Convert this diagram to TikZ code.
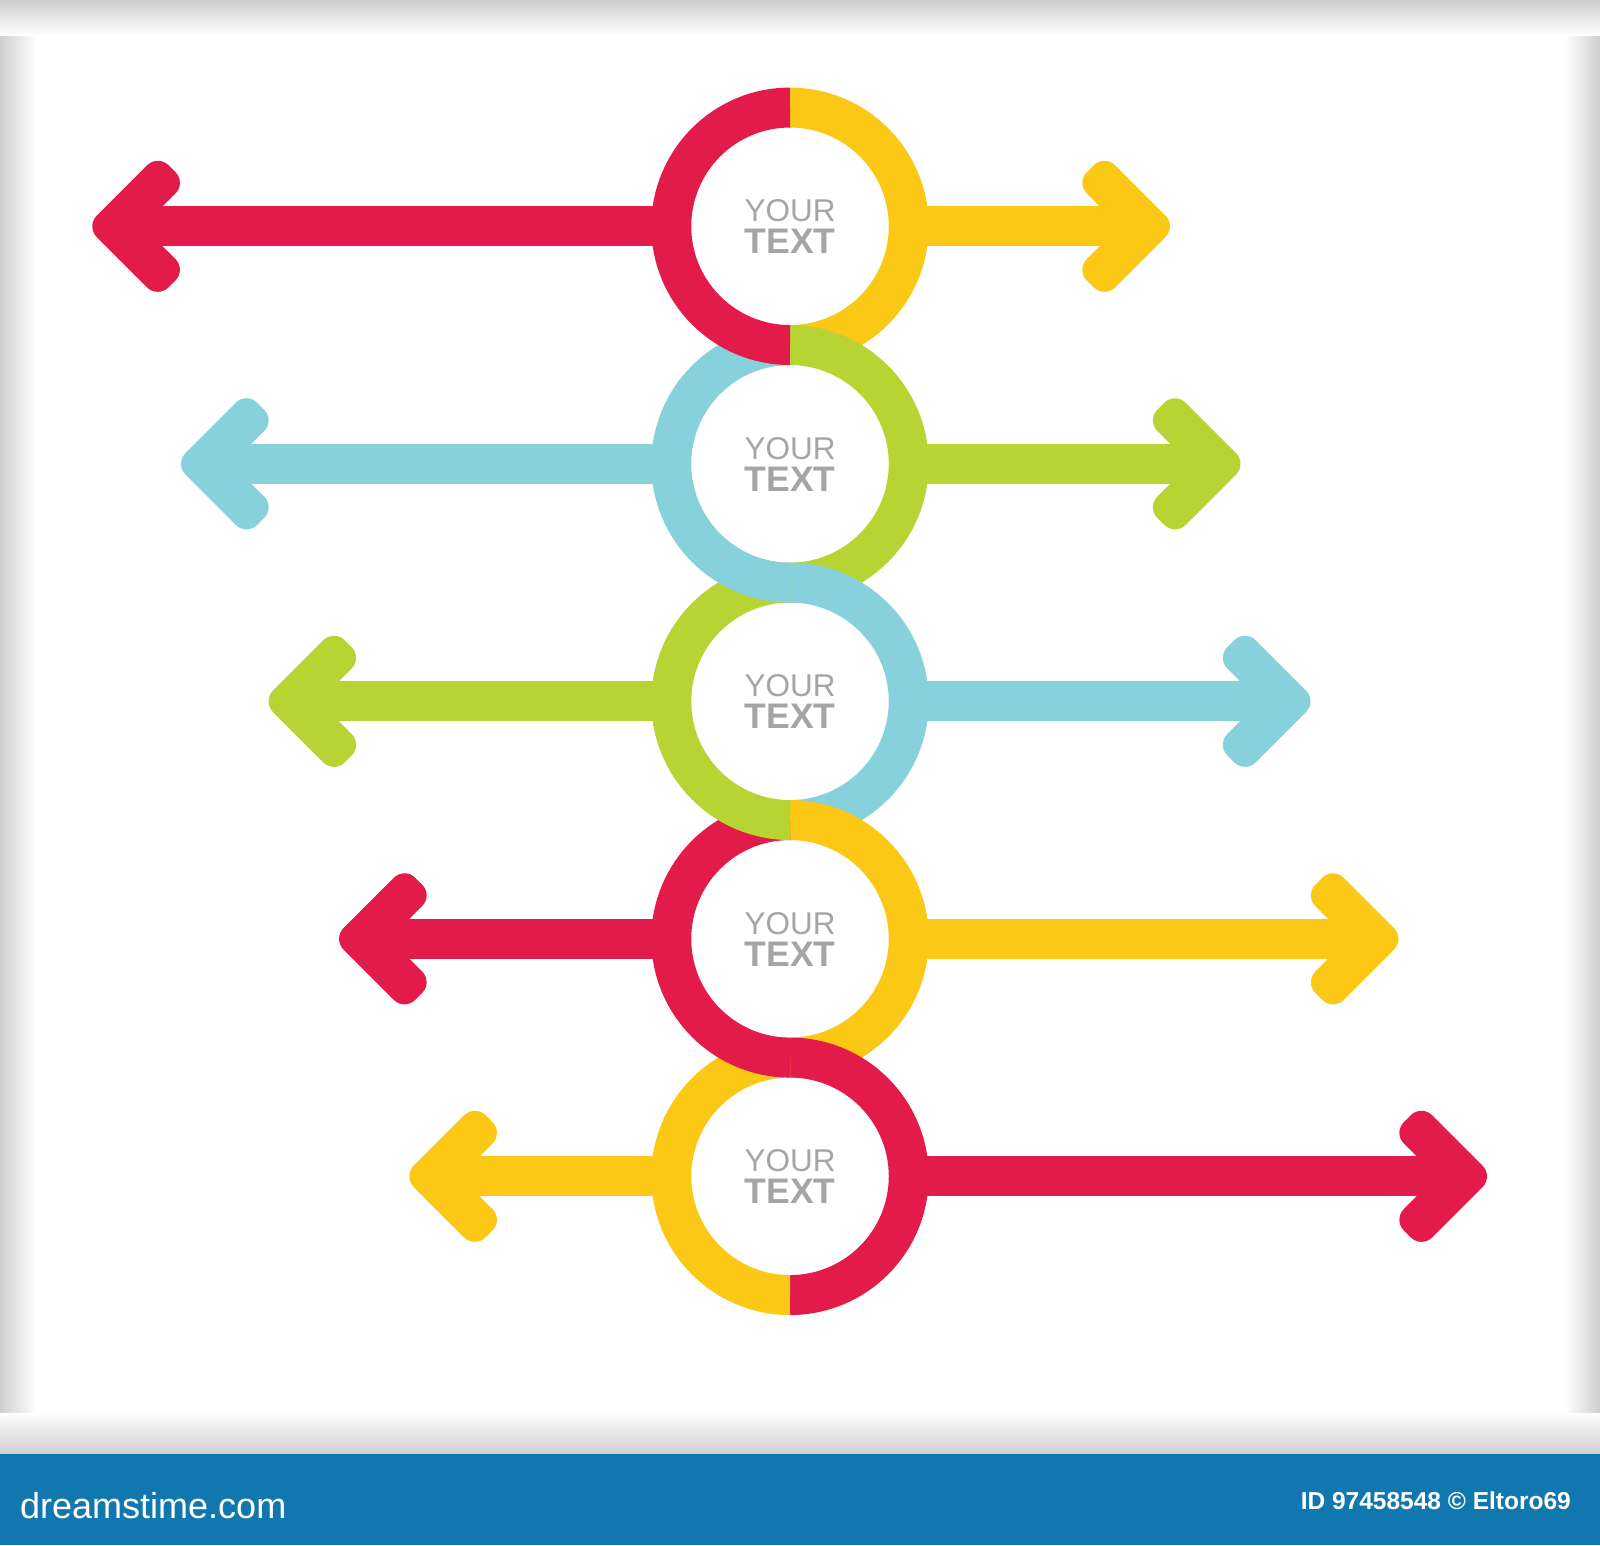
\documentclass[tikz,border=0pt]{standalone}
\usepackage{fontspec}
\setmainfont{Liberation Sans}
\usetikzlibrary{calc}
\definecolor{cred}{HTML}{E21B4B}
\definecolor{cyel}{HTML}{FBC815}
\definecolor{cblu}{HTML}{86D1DC}
\definecolor{cgrn}{HTML}{B8D433}
\definecolor{ctxt}{HTML}{A5A5A5}
\definecolor{cfoot}{HTML}{1177AF}
\definecolor{cedge}{HTML}{CFCFCF}
\begin{document}
\begin{tikzpicture}[x=1pt,y=1pt,
  band/.style={line width=40pt},
  chev/.style={rounded corners=15pt},
  lbl/.style={text=ctxt, inner sep=0pt, anchor=base},
  foot/.style={text=white, inner sep=0pt}]
\useasboundingbox (0,0) rectangle (1600,-1545);
% background frame
\fill[white] (0,0) rectangle (1600,-1545);
\shade[top color=cedge, bottom color=white] (0,0) rectangle (1600,-36);
\shade[top color=white, bottom color=cedge] (0,-1412) rectangle (1600,-1454);
\shade[left color=cedge, right color=white] (0,-36) rectangle (36,-1412);
\shade[left color=white, right color=cedge] (1565,-36) rectangle (1600,-1412);
\fill[cfoot] (0,-1454) rectangle (1600,-1545);
\node[foot, anchor=base west, font=\fontsize{36}{36}\selectfont] (logo) at (20,-1518) {dreamstime.com};
\node[foot, anchor=base east, font=\fontsize{24.5}{24.5}\selectfont\bfseries] (credit) at (1571,-1509.5) {ID 97458548 © Eltoro69};
% arms with arrowheads
\foreach \i/\cy/\lc/\rc/\lt/\rt in {1/226.3/cred/cyel/92.3/1170,2/463.8/cblu/cgrn/181/1240.5,3/701.3/cgrn/cblu/268.5/1310.5,4/938.8/cred/cyel/339/1398.5,5/1176.3/cyel/cred/409.3/1487}{
  \pgfmathsetmacro{\vl}{\lt+22.1}
  \pgfmathsetmacro{\vr}{\rt-22.1}
  \coordinate (c\i) at (790,-\cy);
  \coordinate (al\i) at (671.25,-\cy);
  \coordinate (ar\i) at (908.75,-\cy);
  \coordinate (vl\i) at (\vl,-\cy);
  \coordinate (vr\i) at (\vr,-\cy);
  \draw[band,\lc] (al\i) -- (vl\i);
  \draw[band,\rc] (ar\i) -- (vr\i);
  \fill[\lc, chev, shift={(vl\i)}] (7.5,-36) -- (-28.28,0) -- (43.46,71.74) -- (71.74,43.46) -- (28.28,0) -- (71.74,-43.46) -- (43.46,-71.74) -- cycle;
  \fill[\rc, chev, shift={(vr\i)}, xscale=-1] (7.5,-36) -- (-28.28,0) -- (43.46,71.74) -- (71.74,43.46) -- (28.28,0) -- (71.74,-43.46) -- (43.46,-71.74) -- cycle;
}
% right halves, lower ones on top
\foreach \i/\rc in {1/cyel,2/cgrn,3/cblu,4/cyel,5/cred}{
  \draw[band,\rc] ($(c\i)+(0,118.75)$) arc[start angle=90, end angle=-90, radius=118.75pt];
}
% left halves, upper ones on top
\foreach \i/\lc in {5/cyel,4/cred,3/cgrn,2/cblu,1/cred}{
  \draw[band,\lc] ($(c\i)+(0,118.75)$) arc[start angle=90, end angle=270, radius=118.75pt];
}
% labels
\foreach \i in {1,...,5}{
  \node[lbl, font=\fontsize{31.5}{31.5}\selectfont] (your\i) at ($(c\i)+(0,4.5)$) {YOUR};
  \node[lbl, font=\fontsize{35.5}{35.5}\selectfont\bfseries] (text\i) at ($(c\i)+(0,-27.5)$) {TEXT};
}
\end{tikzpicture}
\end{document}
